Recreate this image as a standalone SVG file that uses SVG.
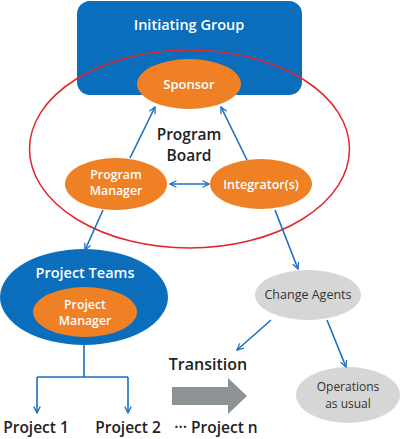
<svg xmlns="http://www.w3.org/2000/svg" width="401" height="439" viewBox="0 0 401 439">
<defs>
<marker id="ah" viewBox="0 0 10 10" refX="9" refY="5" markerWidth="8" markerHeight="8" markerUnits="userSpaceOnUse" orient="auto-start-reverse">
<path d="M1,1 L9,5 L1,9" fill="none" stroke="#1a6fc0" stroke-width="1.6"/>
</marker>
<style>
text{font-family:"Open Sans","Noto Sans","Liberation Sans",sans-serif;text-anchor:middle;font-weight:600}
.w{fill:#fff}
.d{fill:#222}
.g{fill:#333;font-weight:500}
.ln{fill:none;stroke:#1a6fc0;stroke-width:1.6}
.or{fill:#ef8024}
.bl{fill:#0a6ebd}
.gr{fill:#d6d6d6}
</style>
</defs>
<rect width="401" height="439" fill="#fff"/>
<g id="initiating-group">
<rect x="77" y="1" width="225" height="94" rx="13" class="bl"/>
<text x="189" y="30" font-size="14.5" class="w">Initiating Group</text>
</g>
<g id="program-board">
<ellipse cx="189.5" cy="149" rx="160" ry="99" fill="none" stroke="#e3262b" stroke-width="1.5"/>
<text x="189" y="140" font-size="15.5" class="d">Program</text>
<text x="189" y="161" font-size="15.5" class="d">Board</text>
</g>
<g id="sponsor">
<ellipse cx="189" cy="84" rx="52" ry="25" class="or"/>
<text x="189" y="89" font-size="13" class="w">Sponsor</text>
</g>
<g id="program-manager">
<ellipse cx="116" cy="184" rx="51" ry="26" class="or"/>
<text x="116" y="179" font-size="12.3" class="w">Program</text>
<text x="116" y="195" font-size="12.3" class="w">Manager</text>
</g>
<g id="integrators">
<ellipse cx="261" cy="184" rx="51" ry="25" class="or"/>
<text x="261" y="189" font-size="12.5" class="w">Integrator(s)</text>
</g>
<g id="project-teams">
<ellipse cx="84" cy="297" rx="84" ry="48" class="bl"/>
<text x="85" y="278" font-size="14.5" class="w">Project Teams</text>
</g>
<g id="project-manager">
<ellipse cx="85" cy="312" rx="52" ry="25" class="or"/>
<text x="85" y="309" font-size="12.3" class="w">Project</text>
<text x="85" y="325" font-size="12.3" class="w">Manager</text>
</g>
<g id="change-agents">
<ellipse cx="308" cy="295" rx="53" ry="25" class="gr"/>
<text x="308" y="299" font-size="12.5" class="g">Change Agents</text>
</g>
<g id="operations">
<ellipse cx="348" cy="395" rx="52" ry="28" class="gr"/>
<text x="348" y="391" font-size="12" class="g">Operations</text>
<text x="348" y="408" font-size="12" class="g">as usual</text>
</g>
<g id="transition">
<text x="208" y="370" font-size="16" class="d">Transition</text>
<polygon points="172,387 228,387 228,378 247,396 228,414 228,405 172,405" fill="#8d9394"/>
</g>
<g id="projects">
<text x="36" y="433" font-size="15.5" class="d">Project 1</text>
<text x="128" y="433" font-size="15.5" class="d">Project 2</text>
<text x="216" y="433" font-size="15.5" class="d">··· Project n</text>
</g>
<g id="connectors">
<line x1="130" y1="158" x2="155" y2="107" class="ln" marker-end="url(#ah)"/>
<line x1="247" y1="160" x2="221" y2="107" class="ln" marker-end="url(#ah)"/>
<line x1="170" y1="184" x2="209" y2="184" class="ln" marker-start="url(#ah)" marker-end="url(#ah)"/>
<line x1="103" y1="210" x2="85" y2="250" class="ln" marker-end="url(#ah)"/>
<line x1="275" y1="210" x2="298" y2="269" class="ln" marker-end="url(#ah)"/>
<line x1="271" y1="320" x2="237" y2="350" class="ln" marker-end="url(#ah)"/>
<line x1="327" y1="320" x2="346" y2="367" class="ln" marker-end="url(#ah)"/>
<path d="M84,345 V377 M37,377 H128" class="ln"/>
<line x1="37" y1="377" x2="37" y2="413" class="ln" marker-end="url(#ah)"/>
<line x1="128" y1="377" x2="128" y2="413" class="ln" marker-end="url(#ah)"/>
</g>
</svg>
